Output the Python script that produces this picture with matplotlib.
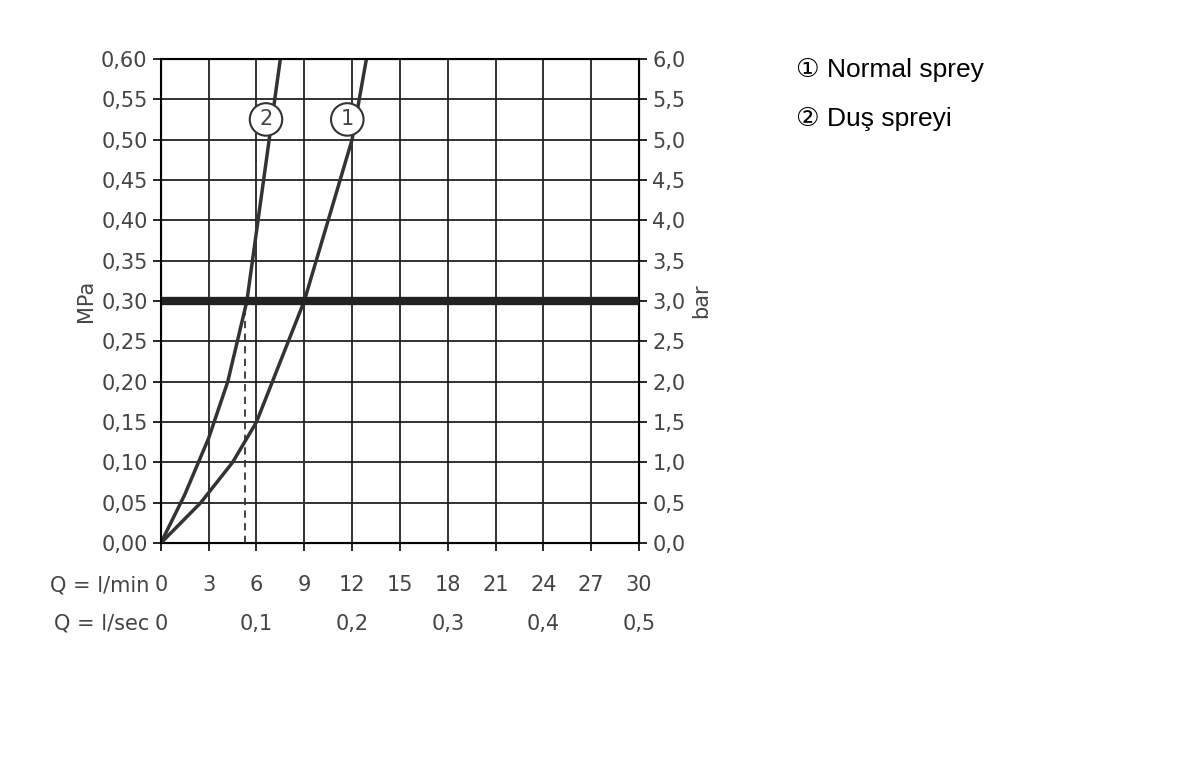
import matplotlib.pyplot as plt

# curve data (Q in l/min, p in MPa)
q1 = [0, 2.5, 4.5, 6.0, 7.5, 9.0, 10.5, 12.0, 12.9]
p1 = [0, 0.05, 0.10, 0.15, 0.225, 0.30, 0.40, 0.50, 0.60]
q2 = [0, 1.5, 3.0, 4.2, 5.4, 6.1, 6.8, 7.5]
p2 = [0, 0.06, 0.13, 0.20, 0.30, 0.40, 0.50, 0.60]

xticks = [0, 3, 6, 9, 12, 15, 18, 21, 24, 27, 30]
sec_pos = [0, 6, 12, 18, 24, 30]
sec_labels = ['0', '0,1', '0,2', '0,3', '0,4', '0,5']
yticks = [i * 0.05 for i in range(13)]
legend = ['\u2460 Normal sprey', '\u2461 Duş spreyi']

grey = '#444444'
fig = plt.figure(figsize=(12, 7.65), dpi=100)
ax = fig.add_axes([0.134, 0.290, 0.3985, 0.633])

ax.set_xlim(0, 30)
ax.set_ylim(0, 0.60)
ax.set_xticks(xticks)
ax.set_yticks(yticks)
ax.grid(True, color='#222222', lw=1.3)
for s in ax.spines.values():
    s.set_linewidth(1.5)
ax.set_xticklabels([])
ax.set_yticklabels([f'{v:.2f}'.replace('.', ',') for v in yticks],
                   fontsize=15, color=grey)
ax.tick_params(length=6, width=1.2, right=True)
ax.set_ylabel('MPa', fontsize=15, color=grey)

ax2 = ax.twinx()
ax2.set_ylim(0, 6)
ax2.set_yticks([i * 0.5 for i in range(13)])
ax2.set_yticklabels([f'{i * 0.5:.1f}'.replace('.', ',') for i in range(13)],
                    fontsize=15, color=grey)
ax2.tick_params(length=6, width=1.2)
ax2.set_ylabel('bar', fontsize=15, color=grey)

ax.plot(q1, p1, color='#333333', lw=2.5, zorder=3)
ax.plot(q2, p2, color='#333333', lw=2.5, zorder=3)
ax.axhline(0.30, color='#222222', lw=6, zorder=4)
ax.vlines([5.3, 9.0], 0, 0.30, colors='#333333', lw=1.3, linestyles=(0, (4, 3)), zorder=3)

for q, lab in [(6.6, '2'), (11.7, '1')]:
    ax.text(q, 0.525, lab, ha='center', va='center', fontsize=15, color=grey, zorder=5,
            bbox=dict(boxstyle='circle,pad=0.3', fc='white', ec='#333333', lw=1.5))

for q in xticks:
    ax.text(q, -0.052, str(q), ha='center', va='center', fontsize=15, color=grey)
for q, lab in zip(sec_pos, sec_labels):
    ax.text(q, -0.1, lab, ha='center', va='center', fontsize=15, color=grey)
ax.text(-0.7, -0.052, 'Q = l/min', ha='right', va='center', fontsize=15, color=grey)
ax.text(-0.7, -0.1, 'Q = l/sec', ha='right', va='center', fontsize=15, color=grey)

for i, t in enumerate(legend):
    fig.text(0.663, 0.908 - i * 0.063, t, fontsize=19, va='center',
             family=['Liberation Sans', 'DejaVu Sans'])

fig.savefig('out.png', dpi=100)
